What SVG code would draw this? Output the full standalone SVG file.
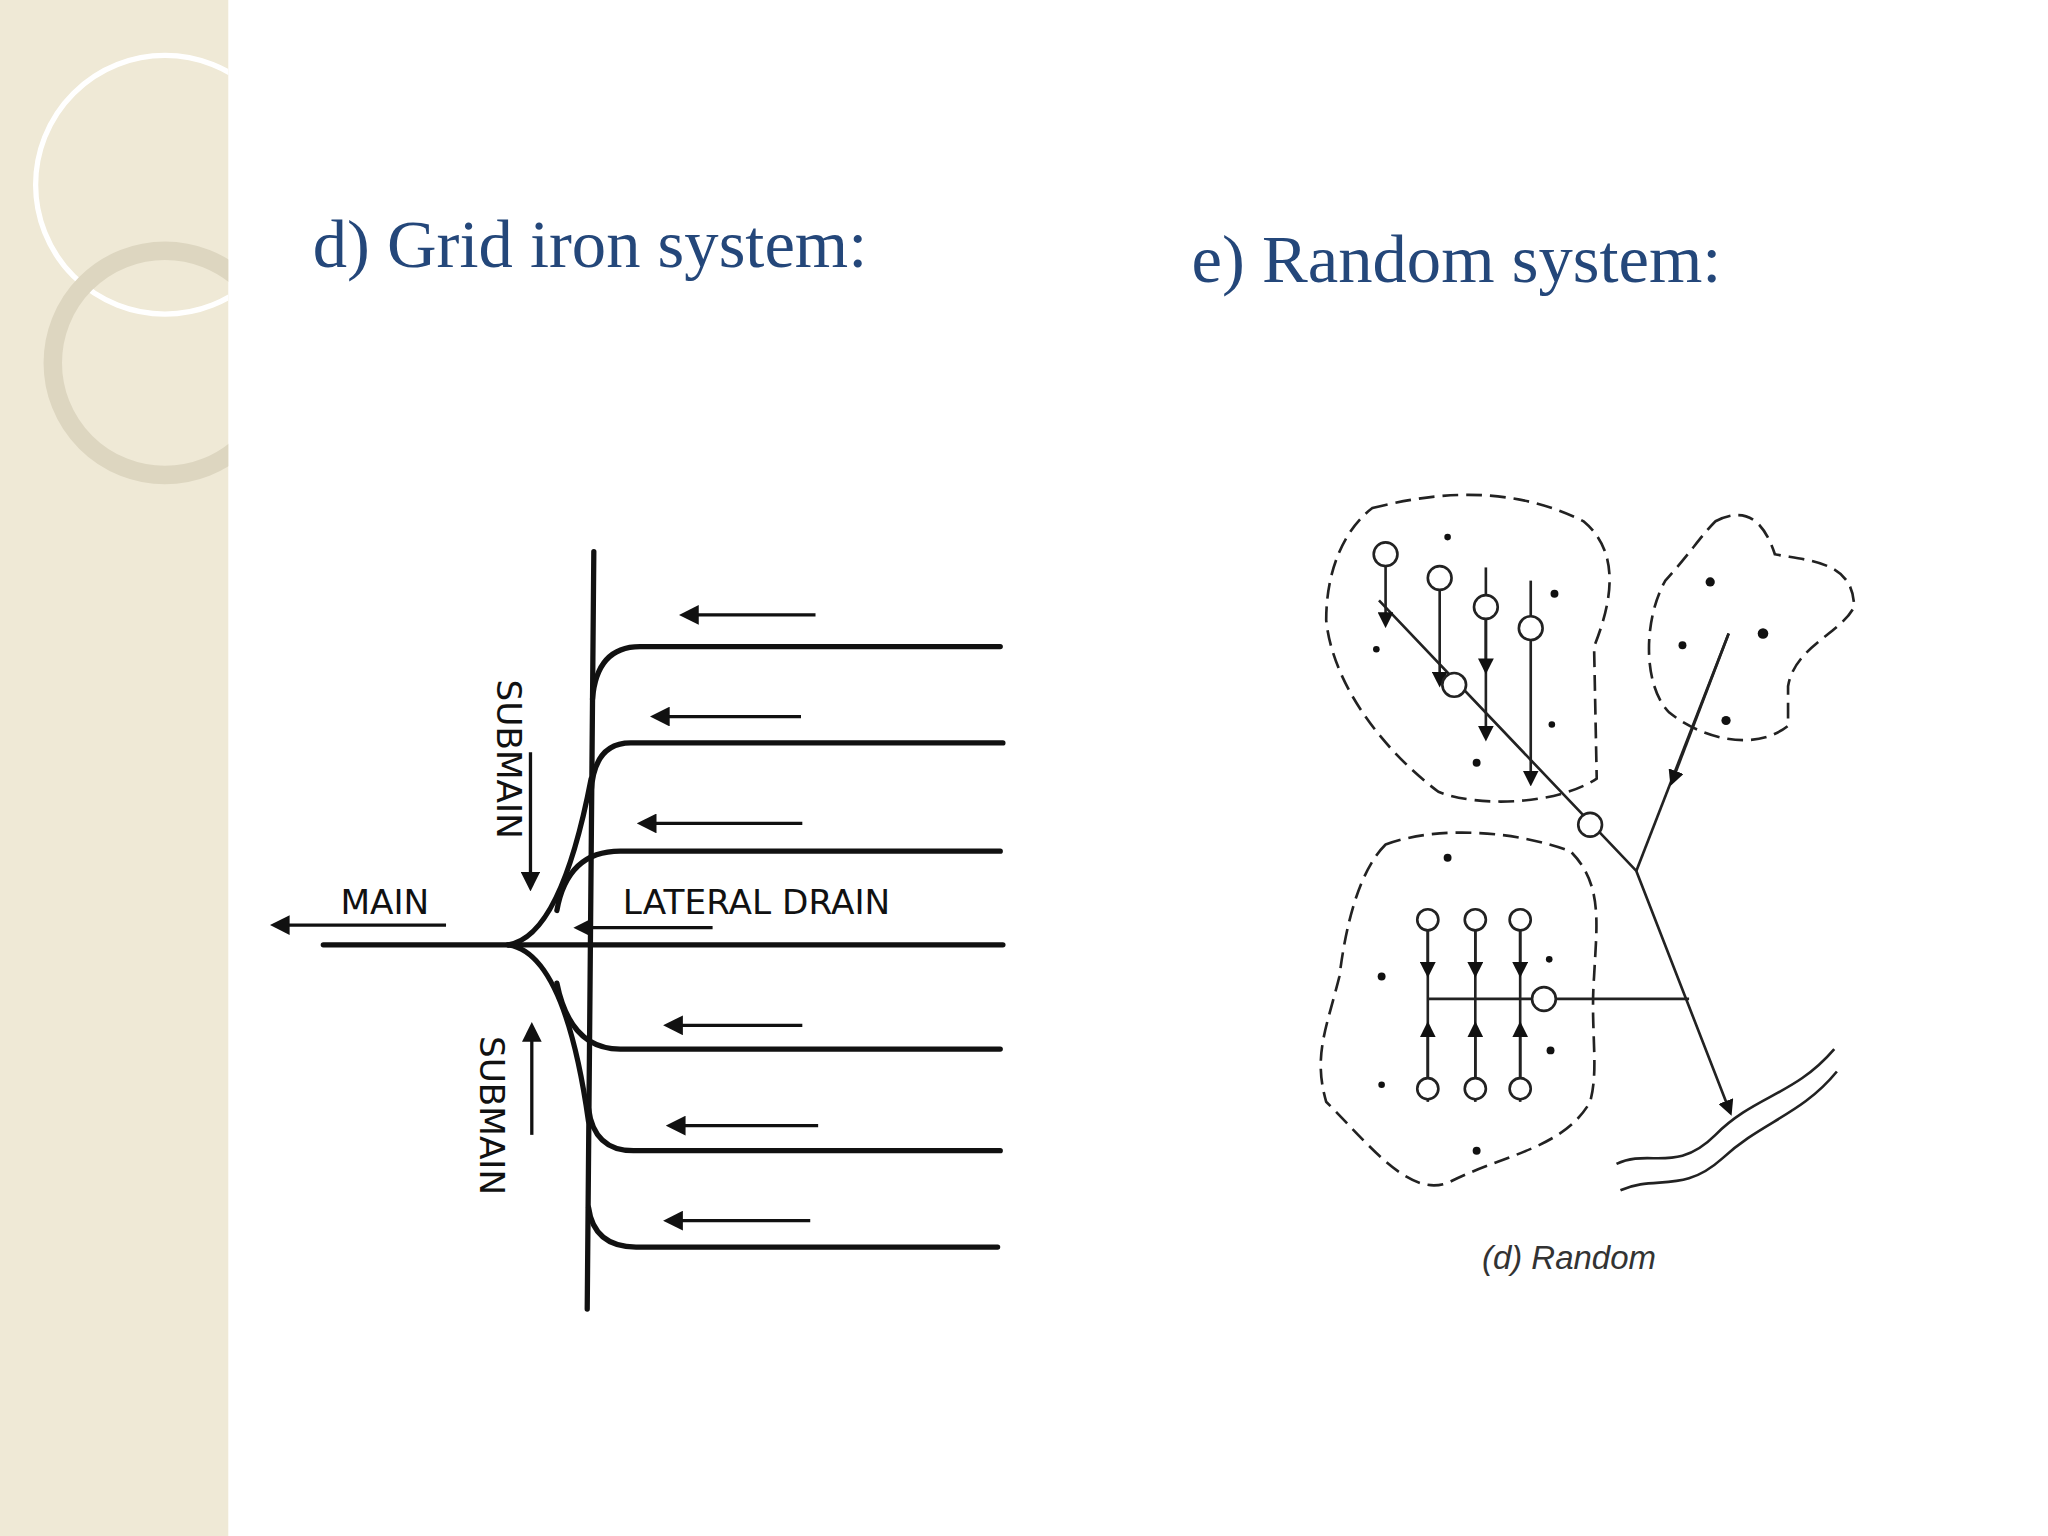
<svg xmlns="http://www.w3.org/2000/svg" width="2048" height="1536" viewBox="0 0 2048 1536">
<defs>
<style>
.t{font-family:"Liberation Serif",serif;fill:#24477a}
.ln{fill:none;stroke:#111;stroke-width:4;stroke-linecap:round}
.ar{fill:none;stroke:#111;stroke-width:2.5}
.lb{font-family:"DejaVu Sans","Liberation Sans",sans-serif;font-size:26px;fill:#111}
.ds{fill:none;stroke:#222;stroke-width:2;stroke-dasharray:12 6}
.r{fill:none;stroke:#222;stroke-width:2}
.c{fill:#fff;stroke:#222;stroke-width:2}
</style>
<marker id="ah" viewBox="0 0 10 10" refX="5" refY="5" markerWidth="6" markerHeight="6" orient="auto-start-reverse"><path d="M0,0L10,5L0,10z" fill="#111"/></marker>
<clipPath id="cp"><rect width="173" height="1176"/></clipPath>
</defs>
<rect width="2048" height="1536" fill="#fff"/>
<g transform="scale(1.3196)">
<g id="bg">
<rect width="173" height="1176" fill="#efe9d6"/>
<g clip-path="url(#cp)">
<circle cx="125" cy="140" r="98" fill="none" stroke="#fff" stroke-width="4"/>
<circle cx="125" cy="275" r="85" fill="none" stroke="#ddd6c0" stroke-width="14"/>
</g>
</g>
<text class="t" x="237" y="202" font-size="52">d) Grid iron system:</text>
<text class="t" x="903" y="214" font-size="52">e) Random system:</text>

<g id="grid">
<path class="ln" d="M450,418L445,992"/>
<path class="ln" d="M245,716H760"/>
<path class="ln" d="M385,716Q425,710 448,590"/>
<path class="ln" d="M385,716Q428,722 446,850"/>
<path class="ln" d="M449,530Q452,490 485,490H758"/>
<path class="ln" d="M448,600Q450,563 478,563H760"/>
<path class="ln" d="M422,690Q430,645 470,645H758"/>
<path class="ln" d="M422,745Q432,795 470,795H758"/>
<path class="ln" d="M446,840Q450,872 480,872H758"/>
<path class="ln" d="M446,915Q450,945 482,945H756"/>
<g class="ar">
<path d="M618,466H522" marker-end="url(#ah)"/>
<path d="M607,543H500" marker-end="url(#ah)"/>
<path d="M608,624H490" marker-end="url(#ah)"/>
<path d="M540,703H442" marker-end="url(#ah)"/>
<path d="M608,777H510" marker-end="url(#ah)"/>
<path d="M620,853H512" marker-end="url(#ah)"/>
<path d="M614,925H510" marker-end="url(#ah)"/>
<path d="M338,701H212" marker-end="url(#ah)"/>
<path d="M402,570V668" marker-end="url(#ah)"/>
<path d="M403,860V782" marker-end="url(#ah)"/>
</g>
<text class="lb" x="258" y="693">MAIN</text>
<text class="lb" x="472" y="693">LATERAL  DRAIN</text>
<text class="lb" transform="translate(377,515) rotate(90)">SUBMAIN</text>
<text class="lb" transform="translate(364,785) rotate(90)">SUBMAIN</text>
</g>

<g id="random">
<path class="ds" d="M1040,385C1080,375 1140,365 1200,395C1230,420 1220,460 1208,490L1210,590C1180,610 1120,612 1090,600C1050,570 1010,520 1005,470C1005,430 1020,400 1040,385Z"/>
<path class="ds" d="M1300,395C1320,385 1335,390 1345,420C1370,425 1405,425 1405,460C1395,480 1360,490 1355,520L1355,550C1330,570 1290,560 1265,540C1245,520 1245,470 1262,440C1280,420 1290,405 1300,395Z"/>
<path class="ds" d="M1050,640C1090,625 1150,630 1190,645C1215,670 1210,700 1208,740C1205,780 1212,810 1205,835C1185,870 1140,875 1100,895C1070,910 1040,870 1005,835C995,800 1005,780 1015,740C1020,700 1030,660 1050,640Z"/>
<path class="r" d="M1045,455L1240,660L1310,840" marker-end="url(#ah)"/>
<path class="r" d="M1310,480L1240,660"/>
<path class="r" d="M1310,480L1268,590" marker-end="url(#ah)"/>
<g class="r">
<path d="M1050,420V470" marker-end="url(#ah)"/>
<path d="M1091,438V515" marker-end="url(#ah)"/>
<path d="M1126,430V556" marker-end="url(#ah)"/>
<path d="M1160,440V590" marker-end="url(#ah)"/>
<path d="M1126,460V505" marker-end="url(#ah)"/>
<path d="M1082,757H1280"/>
<path d="M1082,690V835"/><path d="M1118,690V835"/><path d="M1152,690V835"/>
<path d="M1082,697V735" marker-end="url(#ah)"/>
<path d="M1118,697V735" marker-end="url(#ah)"/>
<path d="M1152,697V735" marker-end="url(#ah)"/>
<path d="M1082,825V780" marker-end="url(#ah)"/>
<path d="M1118,825V780" marker-end="url(#ah)"/>
<path d="M1152,825V780" marker-end="url(#ah)"/>
<path d="M1225,882C1250,870 1270,890 1300,860C1330,830 1360,830 1390,795"/>
<path d="M1228,902C1255,890 1275,905 1305,878C1335,850 1365,845 1392,812"/>
</g>
<g>
<circle class="c" cx="1050" cy="420" r="9"/><circle class="c" cx="1091" cy="438" r="9"/>
<circle class="c" cx="1126" cy="460" r="9"/><circle class="c" cx="1160" cy="476" r="9"/>
<circle class="c" cx="1102" cy="519" r="9"/><circle class="c" cx="1205" cy="625" r="9"/>
<circle class="c" cx="1082" cy="697" r="8"/><circle class="c" cx="1118" cy="697" r="8"/><circle class="c" cx="1152" cy="697" r="8"/>
<circle class="c" cx="1082" cy="825" r="8"/><circle class="c" cx="1118" cy="825" r="8"/><circle class="c" cx="1152" cy="825" r="8"/>
<circle class="c" cx="1170" cy="757" r="9"/>
</g>
<g fill="#111">
<circle cx="1097" cy="407" r="2.5"/><circle cx="1178" cy="450" r="3"/><circle cx="1043" cy="492" r="2.5"/>
<circle cx="1176" cy="549" r="2.5"/><circle cx="1119" cy="578" r="3"/><circle cx="1296" cy="441" r="3.5"/>
<circle cx="1336" cy="480" r="4"/><circle cx="1275" cy="489" r="3"/><circle cx="1308" cy="546" r="3.5"/>
<circle cx="1097" cy="650" r="3"/><circle cx="1174" cy="727" r="2.5"/><circle cx="1047" cy="740" r="3"/>
<circle cx="1175" cy="796" r="3"/><circle cx="1047" cy="822" r="2.5"/><circle cx="1119" cy="872" r="3"/>
</g>
<text x="1123" y="962" font-family="'Liberation Sans',sans-serif" font-style="italic" font-size="25" fill="#333">(d) Random</text>
</g>
</g>
</svg>
